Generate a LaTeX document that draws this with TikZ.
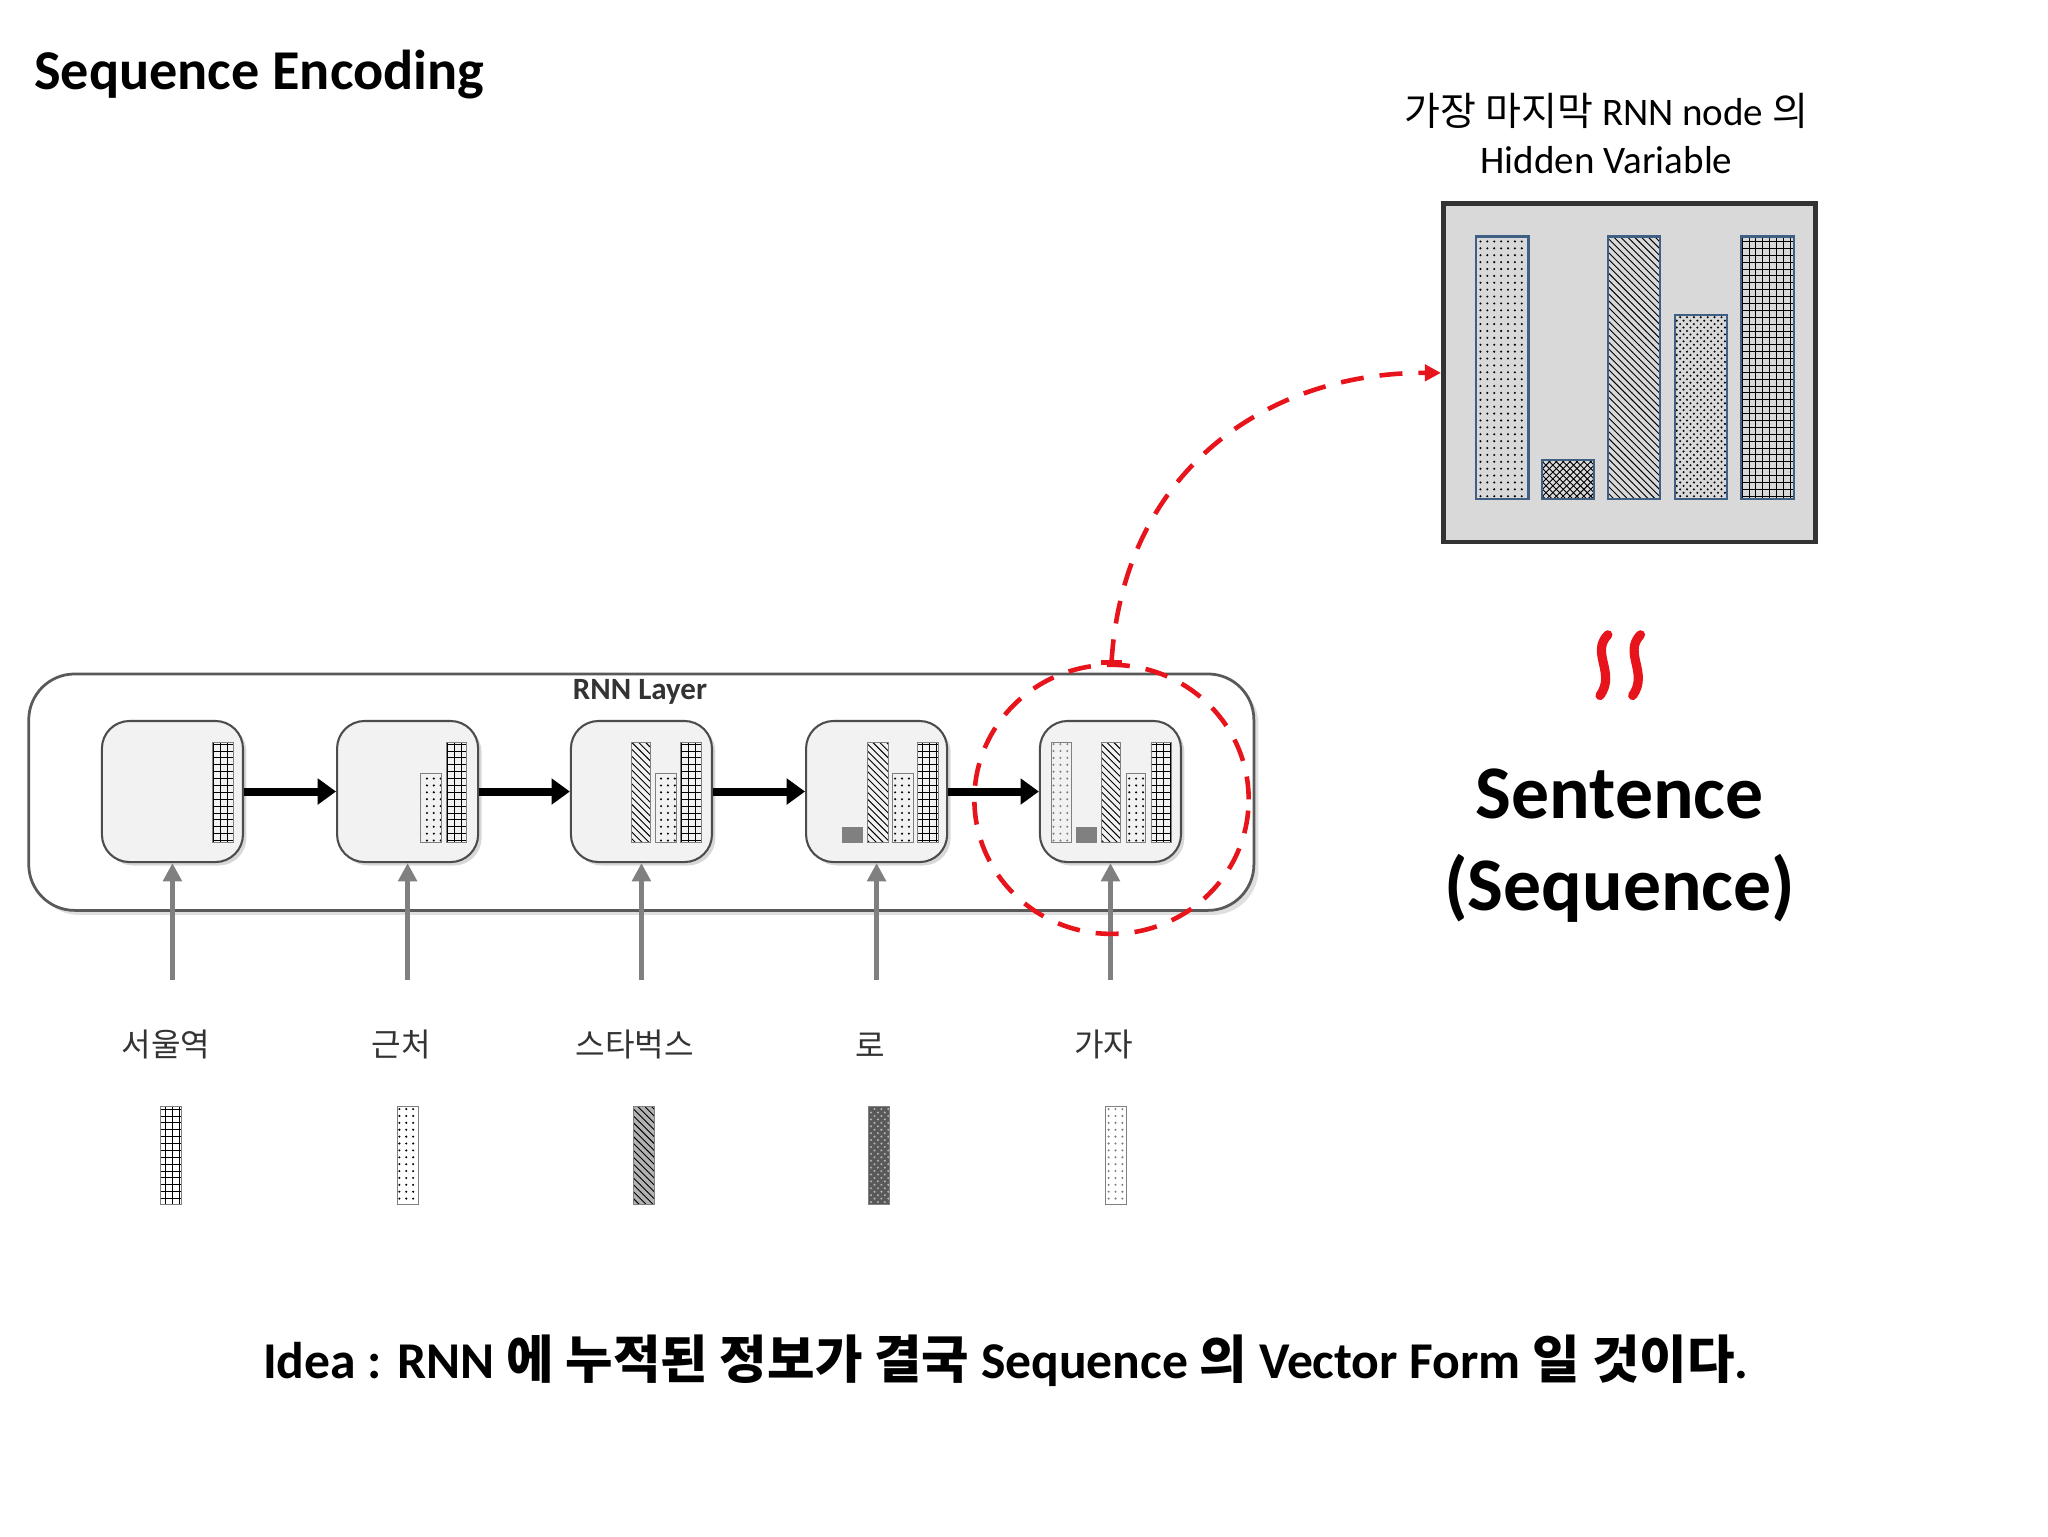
\documentclass[tikz,border=0pt]{standalone}
\usepackage{fontspec}
\setmainfont{Carlito}
\newfontfamily\kr{Noto Sans CJK KR}
\usetikzlibrary{patterns,arrows.meta,shadows,shapes.geometric}
\definecolor{barblue}{HTML}{3F5F85}
\definecolor{boxgray}{HTML}{D9D9D9}
\definecolor{cellgray}{HTML}{F2F2F2}
\definecolor{rred}{HTML}{E8141B}
\tikzset{
  bar/.style={draw=barblue,line width=0.9pt,fill=white},
  sbar/.style={draw=gray,line width=0.4pt,fill=white},
  cell/.style={draw=black!70,line width=0.9pt,fill=cellgray,rounded corners=12pt,drop shadow={shadow xshift=1.5pt,shadow yshift=-1.5pt,opacity=0.3}},
  rarrow/.style={-{Triangle[length=8pt,width=11pt]},line width=3.5pt},
  garrow/.style={-{Triangle[length=8pt,width=8pt]},line width=2.5pt,draw=gray},
  word/.style={font=\kr\fontsize{14}{16}\selectfont,text=black!80},
  wave/.style={rred,line width=4pt,line cap=round},
}
\newcommand{\pbar}[6]{\path[#1,#2] (#3*0.02,-#4*0.02) rectangle (#5*0.02,-#6*0.02);}
\begin{document}
\begin{tikzpicture}
\useasboundingbox (0,0) rectangle (31.36,-23.52);
\fill[white] (0,0) rectangle (31.36,-23.52);
\node[anchor=west,font=\bfseries\fontsize{24.5}{28}\selectfont] (title) at (0.40,-1.14) {Sequence Encoding};
\node[align=center,font=\fontsize{17}{21}\selectfont] (hvlabel) at (24.6,-2.05) {{\kr 가장 마지막} RNN node {\kr 의}\\Hidden Variable};
\node[draw=black!80,line width=2pt,fill=boxgray,minimum width=5.7cm,minimum height=5.18cm,inner sep=0pt] (hv) at (24.95,-5.71) {};
\pbar{bar}{pattern=dots}{1130}{181}{1170}{382}
\pbar{bar}{pattern=crosshatch,pattern color=black}{1180}{352}{1220}{382}
\pbar{bar}{pattern=north west lines}{1231}{181}{1271}{382}
\pbar{bar}{pattern=crosshatch dots}{1282}{241}{1322}{382}
\pbar{bar}{pattern=grid}{1333}{181}{1373}{382}
% approx sign drawn as two waves
\coordinate (ap) at (24.84,-10.2);
\draw[wave] (24.62,-9.72) .. controls (24.35,-10.0) and (24.75,-10.3) .. (24.50,-10.65);
\draw[wave] (25.12,-9.72) .. controls (24.85,-10.0) and (25.25,-10.3) .. (25.00,-10.65);
\node[align=center,font=\bfseries\fontsize{33}{40}\selectfont] (sent) at (24.8,-12.95) {Sentence\\(Sequence)};
\node[draw=black!65,line width=1.2pt,fill=white,rounded corners=20pt,minimum width=18.76cm,minimum height=3.62cm,drop shadow={shadow xshift=2pt,shadow yshift=-2pt,opacity=0.25}] (layer) at (9.82,-12.13) {};
\node[font=\bfseries\fontsize{13.5}{15}\selectfont,text=black!80] (ltitle) at (9.8,-10.6) {RNN Layer};
\foreach \i/\x in {1/132,2/312,3/491,4/671,5/850}{
  \node[cell,minimum width=2.16cm,minimum height=2.16cm] (c\i) at (\x*0.02,-12.12) {};
}
\foreach \a/\b in {c1/c2,c2/c3,c3/c4,c4/c5}{ \draw[rarrow] (\a) -- (\b); }
\pbar{sbar}{pattern=grid}{163}{568}{179}{645}
\pbar{sbar}{pattern=dots}{322}{592}{338}{645}
\pbar{sbar}{pattern=grid}{342}{568}{357}{645}
\pbar{sbar}{pattern=north west lines}{483}{568}{498}{645}
\pbar{sbar}{pattern=dots}{502}{592}{518}{645}
\pbar{sbar}{pattern=grid}{521}{568}{537}{645}
\path[sbar,fill=gray] (645*0.02,-633*0.02) rectangle (660*0.02,-645*0.02);
\pbar{sbar}{pattern=north west lines}{664}{568}{680}{645}
\pbar{sbar}{pattern=dots}{683}{592}{699}{645}
\pbar{sbar}{pattern=grid}{702}{568}{718}{645}
\pbar{sbar}{pattern=dots,pattern color=gray}{805}{568}{820}{645}
\path[sbar,fill=gray] (824*0.02,-633*0.02) rectangle (839*0.02,-645*0.02);
\pbar{sbar}{pattern=north west lines}{843}{568}{858}{645}
\pbar{sbar}{pattern=dots}{862}{592}{877}{645}
\pbar{sbar}{pattern=grid}{881}{568}{897}{645}
\foreach \i/\x/\w in {1/132/서울역,2/312/근처,3/491/스타벅스,4/671/로,5/850/가자}{
  \node[word] (w\i) at (\x*0.02-0.1,-16.0) {\w};
  \coordinate (s\i) at (\x*0.02,-15.0);
  \draw[garrow] (s\i) -- (c\i.south);
}
\pbar{sbar}{pattern=grid}{123}{847}{139}{922}
\pbar{sbar}{pattern=dots}{304}{847}{320}{922}
\path[sbar,fill=gray!60] (485*0.02,-847*0.02) rectangle (501*0.02,-922*0.02);
\path[sbar,pattern=north west lines] (485*0.02,-847*0.02) rectangle (501*0.02,-922*0.02);
\path[sbar,fill=black!65] (665*0.02,-847*0.02) rectangle (681*0.02,-922*0.02);
\path[sbar,pattern=crosshatch dots,pattern color=black!30] (665*0.02,-847*0.02) rectangle (681*0.02,-922*0.02);
\pbar{sbar}{pattern=dots,pattern color=gray}{846}{847}{862}{922}
\node[draw=rred,line width=2pt,dash pattern=on 10pt off 7pt,ellipse,minimum width=4.2cm,minimum height=4.12cm] (circ) at (17.02,-12.24) {};
\coordinate (tail) at (17.02,-10.14);
\draw[rred,line width=2pt] (16.86,-10.14) -- (17.18,-10.14);
\draw[rred,line width=2pt,dash pattern=on 10pt off 7pt,-{Triangle[length=7pt,width=7pt]}] (tail) .. controls (17.2,-7.2) and (19.4,-5.7) .. (hv.west);
\node[font=\bfseries\fontsize{22.5}{26}\selectfont] (idea) at (15.4,-20.84) {Idea : RNN {\kr 에 누적된 정보가 결국} Sequence {\kr 의} Vector Form {\kr 일 것이다}.};
\end{tikzpicture}
\end{document}
